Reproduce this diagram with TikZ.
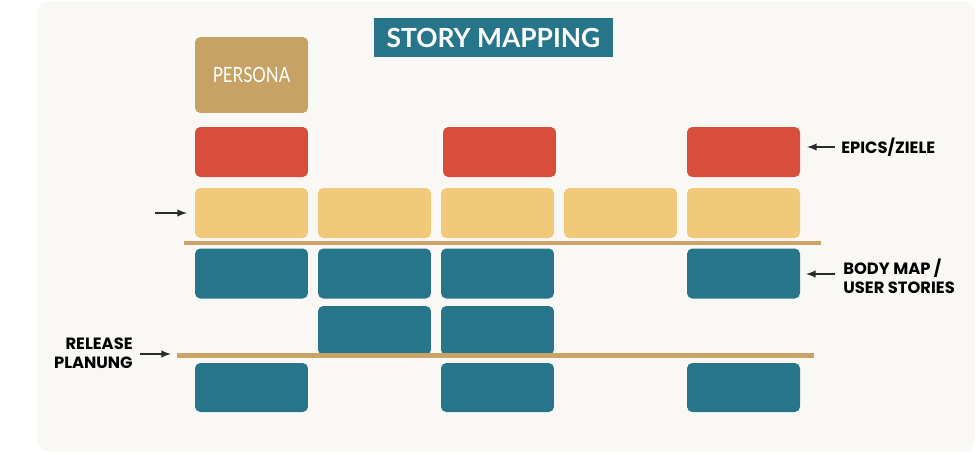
\documentclass[tikz,border=0pt]{standalone}
\usepackage{fontspec}
\usetikzlibrary{arrows,positioning}
\newfontfamily\titelfont{Lato}
\newfontfamily\tagfont{Poppins}
\newfontfamily\personafont[FakeStretch=0.8]{Lato}
\definecolor{bg}{HTML}{FAF8F5}
\definecolor{epic}{HTML}{D84D3C}
\definecolor{gelb}{HTML}{F2C97A}
\definecolor{teal}{HTML}{27758B}
\definecolor{persona}{HTML}{C6A264}
\definecolor{linie}{HTML}{C9A466}
\definecolor{pfeilgrau}{HTML}{2B2B2B}

\begin{document}
\begin{tikzpicture}[x=0.02cm,y=-0.02cm,
card/.style={rounded corners=3pt,minimum width=2.26cm,minimum height=1cm,inner sep=0pt},
tag/.style={font=\tagfont\bfseries\fontsize{9.3}{11}\selectfont,text=black,align=left,inner sep=0pt},
pfeil/.style={-latex,line width=0.9pt,draw=pfeilgrau},
linie/.style={line width=0.09cm,draw=linie}]
\useasboundingbox(0,0)rectangle(980,454);
\fill[bg,rounded corners=0.25cm](37,1)rectangle(975,452);
\node[fill=teal,text=white,font=\titelfont\bfseries\fontsize{15}{18}\selectfont,
minimum width=4.78cm,minimum height=0.78cm,inner sep=0pt](titel)at(493.5,37.5){STORY MAPPING};
\node[card,fill=persona,text=white,minimum height=1.52cm,font=\personafont\fontsize{12}{14}\selectfont](persona)at(251.5,75){PERSONA};
\foreach \x[count=\i] in {251.5,499.5,743.5}
\node[card,fill=epic](e\i)at(\x,152){};
\foreach \x[count=\i] in {251.5,374.5,497.5,620.5,743.5}
\node[card,fill=gelb](g\i)at(\x,213){};
\foreach \x[count=\i] in {251.5,374.5,497.5,743.5}
\node[card,fill=teal](s\i)at(\x,273.5){};
\foreach \x[count=\i] in {374.5,497.5}
\node[card,fill=teal,minimum height=0.98cm](r\i)at(\x,330.5){};
\foreach \x[count=\i] in {251.5,497.5,743.5}
\node[card,fill=teal,minimum height=0.98cm](u\i)at(\x,387.5){};
\coordinate(l1a)at(184,243);\coordinate(l1b)at(821,243);
\coordinate(l2a)at(177,355.5);\coordinate(l2b)at(814,355.5);
\draw[linie](l1a)--(l1b);
\draw[linie](l2a)--(l2b);
\node[tag,anchor=west](epics)at(841,147){EPICS/ZIELE};
\node[tag,anchor=west](body)at(843,276){BODY MAP /\\USER STORIES};
\node[tag,anchor=east,align=right](release)at(133,353){RELEASE\\PLANUNG};
\coordinate(ga)at(155,213);\coordinate(gb)at(187,213);
\coordinate(ea)at(807,147);\coordinate(ba)at(806,274);\coordinate(ra)at(171,354);
\draw[pfeil](epics.west)++(-6,0)--(ea);
\draw[pfeil](body.west)++(-8,-2)--(ba);
\draw[pfeil](release.east)++(7,1)--(ra);
\draw[pfeil](ga)--(gb);
\end{tikzpicture}
\end{document}
